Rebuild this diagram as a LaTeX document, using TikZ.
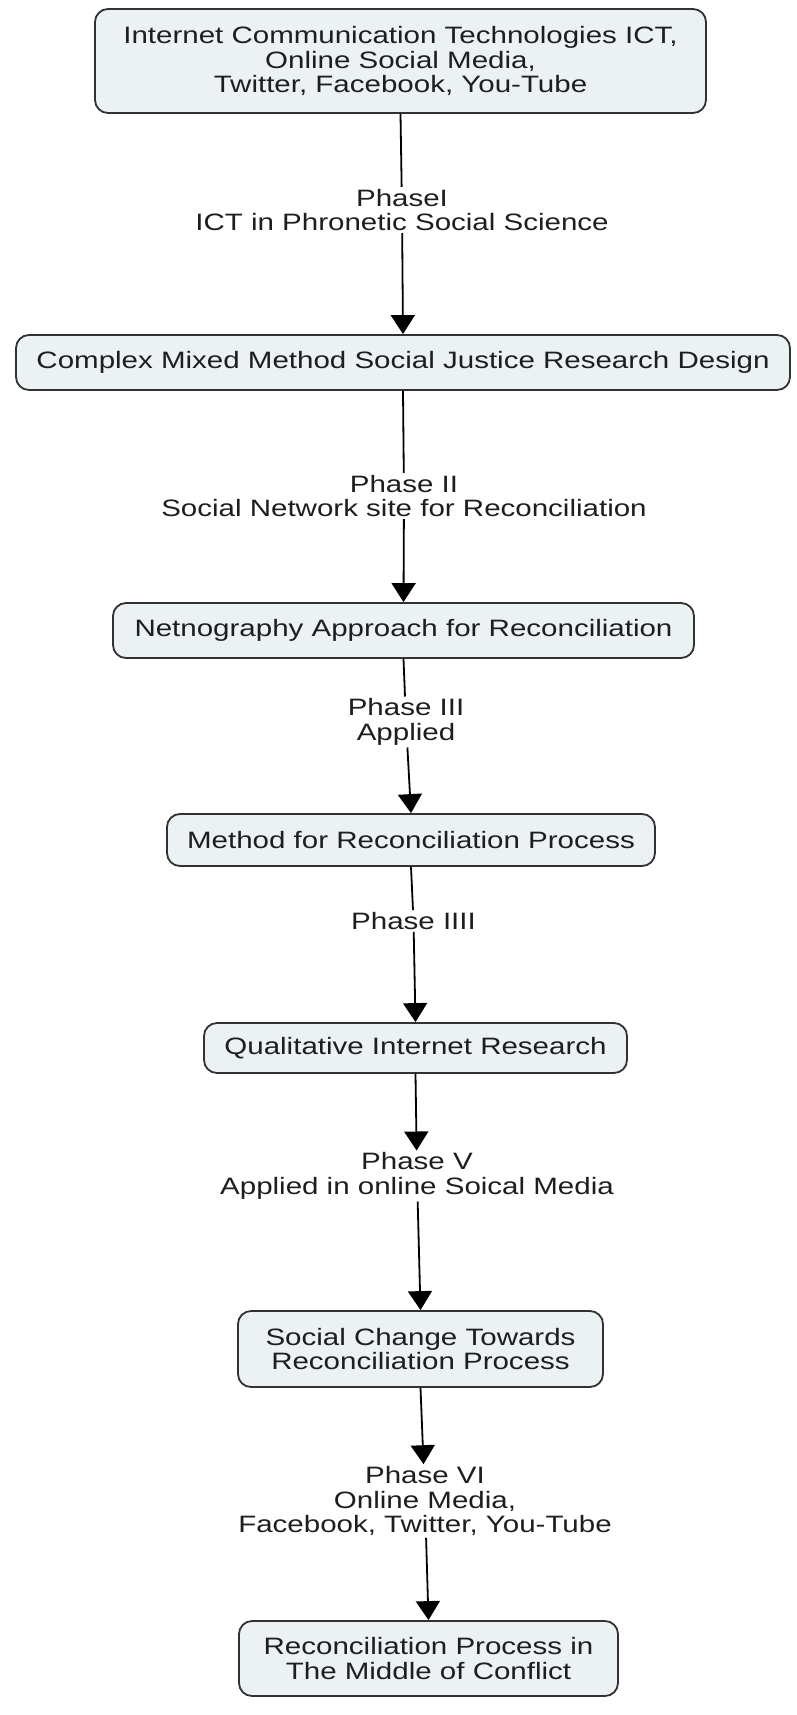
\documentclass[tikz,border=0pt]{standalone}
\usepackage{fontspec}
\setmainfont{Liberation Sans}[FakeStretch=1.245]
\usetikzlibrary{arrows.meta}
\definecolor{boxfill}{RGB}{236,241,243}
\definecolor{boxline}{RGB}{50,50,50}
\definecolor{txt}{RGB}{30,30,30}
\begin{document}
\begin{tikzpicture}[x=1pt,y=-1pt,
  every node/.style={font=\fontsize{23.7}{24.5}\selectfont, text=txt},
  concept/.style={draw=boxline, line width=1.8pt, fill=boxfill, rounded corners=13pt, align=center, inner sep=0pt},
  phrase/.style={fill=white, align=center, inner sep=2pt},
  link/.style={line width=1.8pt, draw=black},
  tip/.style={-{Triangle[width=24pt,length=19pt]}}
]
\useasboundingbox[fill=white] (0,0) rectangle (797,1715);

% concepts
\node[concept, minimum width=611pt, minimum height=104pt] (c1) at (400.5,61)
  {Internet Communication Technologies ICT,\\Online Social Media,\\Twitter, Facebook, You-Tube};
\node[concept, minimum width=774pt, minimum height=55pt] (c2) at (403,362.5)
  {Complex Mixed Method Social Justice Research Design};
\node[concept, minimum width=581pt, minimum height=55pt] (c3) at (403.5,630.5)
  {Netnography Approach for Reconciliation};
\node[concept, minimum width=488pt, minimum height=52pt] (c4) at (411,840)
  {Method for Reconciliation Process};
\node[concept, minimum width=423pt, minimum height=50pt] (c5) at (415.5,1048)
  {Qualitative Internet Research};
\node[concept, minimum width=365pt, minimum height=76pt] (c6) at (420.5,1349)
  {Social Change Towards\\Reconciliation Process};
\node[concept, minimum width=379pt, minimum height=75pt] (c7) at (428.5,1658.5)
  {Reconciliation Process in\\The Middle of Conflict};

% linking phrases
\node[phrase] (p1) at (402,210) {PhaseI\\ICT in Phronetic Social Science};
\node[phrase] (p2) at (404,496) {Phase II\\Social Network site for Reconciliation};
\node[phrase] (p3) at (406,722) {Phase III\\Applied};
\node[phrase] (p4) at (413.5,921) {Phase IIII};
\node[phrase] (p5) at (417,1176) {Phase V\\Applied in online Soical Media};
\node[phrase] (p6) at (425,1501) {Phase VI\\Online Media,\\Facebook, Twitter, You-Tube};

% connectors
\draw[link] (c1.south) -- (p1);
\draw[link, tip] (p1) -- (c2.north);
\draw[link] (c2.south) -- (p2);
\draw[link, tip] (p2) -- (c3.north);
\draw[link] (c3.south) -- (p3);
\draw[link, tip] (p3) -- (c4.north);
\draw[link] (c4.south) -- (p4);
\draw[link, tip] (p4) -- (c5.north);
\draw[link, tip] (c5.south) -- (p5);
\draw[link, tip] (p5) -- (c6.north);
\draw[link, tip] (c6.south) -- (p6);
\draw[link, tip] (p6) -- (c7.north);
\end{tikzpicture}
\end{document}
